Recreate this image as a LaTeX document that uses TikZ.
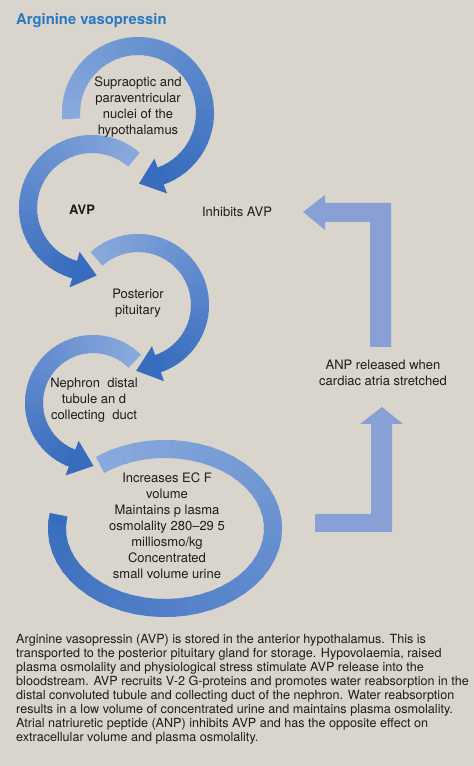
\documentclass[tikz,border=0pt]{standalone}
\usepackage{fontspec}
\setmainfont{TeX Gyre Heros}
\usetikzlibrary{calc}
\definecolor{bg}{RGB}{217,213,204}
\definecolor{arclight}{RGB}{136,169,220}
\definecolor{arcdark}{RGB}{56,108,190}
\definecolor{anpblue}{RGB}{137,160,214}
\definecolor{titleblue}{RGB}{41,121,192}
\definecolor{txt}{RGB}{28,28,28}
% gradient arc: center, start angle, end angle, x radius, y radius
\newcommand\gradarc[5]{%
  \foreach \i in {0,...,47}{%
    \pgfmathsetmacro\aa{#2+(#3-#2)*\i/48}%
    \pgfmathsetmacro\ab{#2+(#3-#2)*min(\i+1.4,48)/48}%
    \pgfmathtruncatemacro\pc{100*\i/47}%
    \draw[arcstroke, draw=arcdark!\pc!arclight] (#1) ++(\aa:#4 and #5)
      arc[start angle=\aa, end angle=\ab, x radius=#4, y radius=#5];
  }%
}
% arrowhead at arc end: center, end angle, radius, direction sign
\newcommand\arcarrow[4]{%
  \pgfmathsetmacro\dd{#2+#4*90}%
  \pgfmathsetmacro\bb{#2-#4*0.8}%
  \pgfmathsetmacro\ro{#3+18.5}%
  \pgfmathsetmacro\ri{#3-18.5}%
  \fill[arcdark] ($(#1)+(\bb:\ro)$) -- ($(#1)+(#2:#3)+(\dd:22)$) -- ($(#1)+(\bb:\ri)$) -- cycle;
}
\begin{document}
\begin{tikzpicture}[x=1pt,y=1pt,
  lab/.style={font=\fontsize{13}{16}\selectfont, align=center, text=txt, inner sep=0pt},
  arcstroke/.style={line width=18pt},
  anparrow/.style={fill=anpblue},
  captext/.style={font=\fontsize{12.6}{14}\selectfont, align=left, text=txt, inner sep=0pt}
]
\fill[bg] (0,0) rectangle (474,766);
\useasboundingbox (0,0) rectangle (474,766);

% centres of the circles
\coordinate (c1) at (138,653);
\coordinate (c2) at (92,558);
\coordinate (c3) at (138,461);
\coordinate (c4) at (93,363);
\coordinate (c5) at (165,237.5);

% title
\node[font=\fontsize{14.8}{17}\selectfont\bfseries, text=titleblue, anchor=west, inner sep=0pt] (title) at (16,745) {Arginine vasopressin};

% arcs
\gradarc{c1}{185}{-71}{67}{67}
\arcarrow{c1}{-71}{67}{-1}
\gradarc{c2}{49}{255}{64}{64}
\arcarrow{c2}{255}{64}{1}
\gradarc{c3}{132}{-72}{62}{62}
\arcarrow{c3}{-72}{62}{-1}
\gradarc{c4}{45}{250}{59}{59}
\arcarrow{c4}{250}{59}{1}
\gradarc{c5}{127}{-190}{108}{79.5}

% labels
\node[lab] (hyp) at (138,659) {Supraoptic and\\paraventricular\\nuclei of the\\hypothalamus};
\node[lab, font=\fontsize{13}{16}\selectfont\bfseries] (avp) at (82,556) {AVP};
\node[lab] (post) at (138,463) {Posterior\\pituitary};
\node[lab] (neph) at (94,366) {Nephron\ \ distal\\tubule an d\\collecting\ \ duct};
\node[lab] (eff) at (167,240) {Increases EC F\\volume\\Maintains p lasma\\osmolality 280–29 5\\milliosmo/kg\\Concentrated\\small volume urine};
\node[lab] (inh) at (237,554) {Inhibits AVP};
\node[lab] (anp) at (383,393) {ANP released when\\cardiac atria stretched};

% ANP arrows
\fill[anparrow] (303,554) -- (325,571) -- (325,563) -- (391,563) -- (391,419) -- (370,419) -- (370,544) -- (325,544) -- (325,536) -- cycle;
\fill[anparrow] (382,359) -- (403,342) -- (392,342) -- (392,234) -- (315,234) -- (315,252) -- (371,252) -- (371,342) -- (360,342) -- cycle;

% caption
\node[captext, anchor=north west] (cap) at (16,131.5) {Arginine vasopressin (AVP) is stored in the anterior hypothalamus. This is\\
transported to the posterior pituitary gland for storage. Hypovolaemia, raised\\
plasma osmolality and physiological stress stimulate AVP release into the\\
bloodstream. AVP recruits V-2 G-proteins and promotes water reabsorption in the\\
distal convoluted tubule and collecting duct of the nephron. Water reabsorption\\
results in a low volume of concentrated urine and maintains plasma osmolality.\\
Atrial natriuretic peptide (ANP) inhibits AVP and has the opposite effect on\\
extracellular volume and plasma osmolality.};
\end{tikzpicture}
\end{document}
